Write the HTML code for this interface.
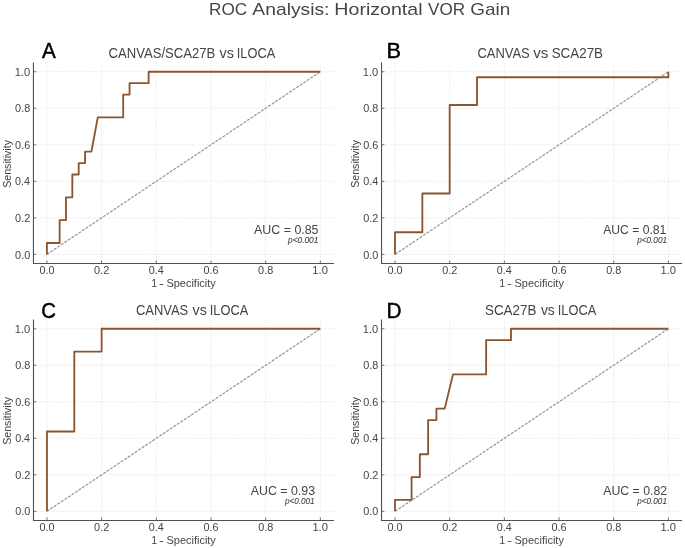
<!DOCTYPE html>
<html><head><meta charset="utf-8"><style>
html,body{margin:0;padding:0;background:#fff;}
svg{display:block;font-family:"Liberation Sans",sans-serif;will-change:transform;}
</style></head><body>
<svg width="685" height="548" viewBox="0 0 685 548">
<text x="209.09" y="15.00" font-size="17.15" textLength="38.16" lengthAdjust="spacingAndGlyphs" fill="#454545" style="" >ROC</text>
<text x="252.36" y="15.00" font-size="17.15" textLength="77.10" lengthAdjust="spacingAndGlyphs" fill="#454545" style="" >Analysis:</text>
<text x="334.39" y="15.00" font-size="17.15" textLength="88.11" lengthAdjust="spacingAndGlyphs" fill="#454545" style="" >Horizontal</text>
<text x="428.12" y="15.00" font-size="17.15" textLength="37.07" lengthAdjust="spacingAndGlyphs" fill="#454545" style="" >VOR</text>
<text x="470.25" y="15.00" font-size="17.15" textLength="39.98" lengthAdjust="spacingAndGlyphs" fill="#454545" style="" >Gain</text>
<path d="M46.90 62.62V263.53M33.23 254.40H333.97M101.58 62.62V263.53M33.23 217.87H333.97M156.26 62.62V263.53M33.23 181.34H333.97M210.94 62.62V263.53M33.23 144.81H333.97M265.62 62.62V263.53M33.23 108.28H333.97M320.30 62.62V263.53M33.23 71.75H333.97" stroke="#dadada" stroke-width="0.8" stroke-dasharray="1.0 1.48" fill="none"/>
<path d="M46.90 254.40L320.30 71.75" stroke="#959595" stroke-width="1.2" stroke-dasharray="2.95 1.275" fill="none"/>
<polyline points="46.90,254.40 46.90,242.98 59.62,242.98 59.62,220.15 65.97,220.15 65.97,197.32 72.33,197.32 72.33,174.49 78.69,174.49 78.69,163.07 85.05,163.07 85.05,151.66 91.41,151.66 97.77,117.41 123.20,117.41 123.20,94.58 129.56,94.58 129.56,83.17 148.63,83.17 148.63,71.75 320.30,71.75" stroke="#8b5530" stroke-width="1.85" fill="none" stroke-linejoin="round"/>
<path d="M33.43 62.62V263.53H333.97" stroke="#505050" stroke-width="1.1" fill="none"/>
<path d="M33.23 254.40h3M46.90 263.53v-3M33.23 217.87h3M101.58 263.53v-3M33.23 181.34h3M156.26 263.53v-3M33.23 144.81h3M210.94 263.53v-3M33.23 108.28h3M265.62 263.53v-3M33.23 71.75h3M320.30 263.53v-3" stroke="#505050" stroke-width="0.8" fill="none"/>
<text x="15.11" y="258.50" font-size="11.05" textLength="15.05" lengthAdjust="spacingAndGlyphs" fill="#454545" style="" >0.0</text>
<text x="39.38" y="273.93" font-size="11.05" textLength="15.05" lengthAdjust="spacingAndGlyphs" fill="#454545" style="" >0.0</text>
<text x="15.10" y="221.97" font-size="11.05" textLength="15.18" lengthAdjust="spacingAndGlyphs" fill="#454545" style="" >0.2</text>
<text x="94.05" y="273.93" font-size="11.05" textLength="15.18" lengthAdjust="spacingAndGlyphs" fill="#454545" style="" >0.2</text>
<text x="15.11" y="185.44" font-size="11.05" textLength="14.93" lengthAdjust="spacingAndGlyphs" fill="#454545" style="" >0.4</text>
<text x="148.74" y="273.93" font-size="11.05" textLength="14.93" lengthAdjust="spacingAndGlyphs" fill="#454545" style="" >0.4</text>
<text x="15.11" y="148.91" font-size="11.05" textLength="15.10" lengthAdjust="spacingAndGlyphs" fill="#454545" style="" >0.6</text>
<text x="203.42" y="273.93" font-size="11.05" textLength="15.10" lengthAdjust="spacingAndGlyphs" fill="#454545" style="" >0.6</text>
<text x="15.11" y="112.38" font-size="11.05" textLength="15.10" lengthAdjust="spacingAndGlyphs" fill="#454545" style="" >0.8</text>
<text x="258.10" y="273.93" font-size="11.05" textLength="15.10" lengthAdjust="spacingAndGlyphs" fill="#454545" style="" >0.8</text>
<text x="14.68" y="75.85" font-size="11.05" textLength="15.48" lengthAdjust="spacingAndGlyphs" fill="#454545" style="" >1.0</text>
<text x="312.35" y="273.93" font-size="11.05" textLength="15.48" lengthAdjust="spacingAndGlyphs" fill="#454545" style="" >1.0</text>
<text x="151.19" y="286.73" font-size="11.19" textLength="5.93" lengthAdjust="spacingAndGlyphs" fill="#454545" style="" >1</text>
<text x="159.04" y="286.73" font-size="11.19" textLength="4.91" lengthAdjust="spacingAndGlyphs" fill="#454545">-</text>
<text x="166.40" y="286.73" font-size="11.19" textLength="49.42" lengthAdjust="spacingAndGlyphs" fill="#454545" style="" >Specificity</text>
<g transform="translate(11.03,163.67) rotate(-90)"><text x="-24.08" y="0.00" font-size="10.76" textLength="47.70" lengthAdjust="spacingAndGlyphs" fill="#454545" style="" >Sensitivity</text></g>
<text x="108.54" y="58.00" font-size="14.39" textLength="106.74" lengthAdjust="spacingAndGlyphs" fill="#454545" style="" >CANVAS/SCA27B</text>
<text x="219.55" y="58.00" font-size="14.39" textLength="14.37" lengthAdjust="spacingAndGlyphs" fill="#454545" style="" >vs</text>
<text x="236.82" y="58.00" font-size="14.39" textLength="38.41" lengthAdjust="spacingAndGlyphs" fill="#454545" style="" >ILOCA</text>
<text x="41.96" y="58.00" font-size="21.29" textLength="13.78" lengthAdjust="spacingAndGlyphs" fill="#000000" style="" stroke="#000" stroke-width="0.45">A</text>
<text x="254.08" y="233.90" font-size="12.50" textLength="64.44" lengthAdjust="spacingAndGlyphs" fill="#444444" style="" >AUC = 0.85</text>
<text x="288.01" y="242.70" font-size="8.43" textLength="30.40" lengthAdjust="spacingAndGlyphs" fill="#404040" style="font-style:italic;" stroke="#404040" stroke-width="0.08">p&lt;0.001</text>
<path d="M395.00 62.62V263.53M381.33 254.40H682.07M449.68 62.62V263.53M381.33 217.87H682.07M504.36 62.62V263.53M381.33 181.34H682.07M559.04 62.62V263.53M381.33 144.81H682.07M613.72 62.62V263.53M381.33 108.28H682.07M668.40 62.62V263.53M381.33 71.75H682.07" stroke="#dadada" stroke-width="0.8" stroke-dasharray="1.0 1.48" fill="none"/>
<path d="M395.00 254.40L668.40 71.75" stroke="#959595" stroke-width="1.2" stroke-dasharray="2.95 1.275" fill="none"/>
<polyline points="395.00,254.40 395.00,232.26 422.34,232.26 422.34,193.52 449.68,193.52 449.68,104.96 477.02,104.96 477.02,77.28 668.40,77.28 668.40,71.75" stroke="#8b5530" stroke-width="1.85" fill="none" stroke-linejoin="round"/>
<path d="M381.53 62.62V263.53H682.07" stroke="#505050" stroke-width="1.1" fill="none"/>
<path d="M381.33 254.40h3M395.00 263.53v-3M381.33 217.87h3M449.68 263.53v-3M381.33 181.34h3M504.36 263.53v-3M381.33 144.81h3M559.04 263.53v-3M381.33 108.28h3M613.72 263.53v-3M381.33 71.75h3M668.40 263.53v-3" stroke="#505050" stroke-width="0.8" fill="none"/>
<text x="363.21" y="258.50" font-size="11.05" textLength="15.05" lengthAdjust="spacingAndGlyphs" fill="#454545" style="" >0.0</text>
<text x="387.48" y="273.93" font-size="11.05" textLength="15.05" lengthAdjust="spacingAndGlyphs" fill="#454545" style="" >0.0</text>
<text x="363.20" y="221.97" font-size="11.05" textLength="15.18" lengthAdjust="spacingAndGlyphs" fill="#454545" style="" >0.2</text>
<text x="442.15" y="273.93" font-size="11.05" textLength="15.18" lengthAdjust="spacingAndGlyphs" fill="#454545" style="" >0.2</text>
<text x="363.21" y="185.44" font-size="11.05" textLength="14.93" lengthAdjust="spacingAndGlyphs" fill="#454545" style="" >0.4</text>
<text x="496.84" y="273.93" font-size="11.05" textLength="14.93" lengthAdjust="spacingAndGlyphs" fill="#454545" style="" >0.4</text>
<text x="363.21" y="148.91" font-size="11.05" textLength="15.10" lengthAdjust="spacingAndGlyphs" fill="#454545" style="" >0.6</text>
<text x="551.52" y="273.93" font-size="11.05" textLength="15.10" lengthAdjust="spacingAndGlyphs" fill="#454545" style="" >0.6</text>
<text x="363.21" y="112.38" font-size="11.05" textLength="15.10" lengthAdjust="spacingAndGlyphs" fill="#454545" style="" >0.8</text>
<text x="606.20" y="273.93" font-size="11.05" textLength="15.10" lengthAdjust="spacingAndGlyphs" fill="#454545" style="" >0.8</text>
<text x="362.78" y="75.85" font-size="11.05" textLength="15.48" lengthAdjust="spacingAndGlyphs" fill="#454545" style="" >1.0</text>
<text x="660.45" y="273.93" font-size="11.05" textLength="15.48" lengthAdjust="spacingAndGlyphs" fill="#454545" style="" >1.0</text>
<text x="499.29" y="286.73" font-size="11.19" textLength="5.93" lengthAdjust="spacingAndGlyphs" fill="#454545" style="" >1</text>
<text x="507.14" y="286.73" font-size="11.19" textLength="4.91" lengthAdjust="spacingAndGlyphs" fill="#454545">-</text>
<text x="514.50" y="286.73" font-size="11.19" textLength="49.42" lengthAdjust="spacingAndGlyphs" fill="#454545" style="" >Specificity</text>
<g transform="translate(359.13,163.67) rotate(-90)"><text x="-24.08" y="0.00" font-size="10.76" textLength="47.70" lengthAdjust="spacingAndGlyphs" fill="#454545" style="" >Sensitivity</text></g>
<text x="477.45" y="58.00" font-size="14.39" textLength="52.33" lengthAdjust="spacingAndGlyphs" fill="#454545" style="" >CANVAS</text>
<text x="533.15" y="58.00" font-size="14.39" textLength="15.10" lengthAdjust="spacingAndGlyphs" fill="#454545" style="" >vs</text>
<text x="551.69" y="58.00" font-size="14.39" textLength="51.31" lengthAdjust="spacingAndGlyphs" fill="#454545" style="" >SCA27B</text>
<text x="386.51" y="58.00" font-size="21.29" textLength="14.54" lengthAdjust="spacingAndGlyphs" fill="#000000" style="" stroke="#000" stroke-width="0.45">B</text>
<text x="603.18" y="234.30" font-size="12.79" textLength="63.12" lengthAdjust="spacingAndGlyphs" fill="#444444" style="" >AUC = 0.81</text>
<text x="637.20" y="243.00" font-size="8.72" textLength="29.79" lengthAdjust="spacingAndGlyphs" fill="#404040" style="font-style:italic;" stroke="#404040" stroke-width="0.08">p&lt;0.001</text>
<path d="M46.96 319.62V520.48M33.29 511.35H334.03M101.64 319.62V520.48M33.29 474.83H334.03M156.32 319.62V520.48M33.29 438.31H334.03M211.00 319.62V520.48M33.29 401.79H334.03M265.68 319.62V520.48M33.29 365.27H334.03M320.36 319.62V520.48M33.29 328.75H334.03" stroke="#dadada" stroke-width="0.8" stroke-dasharray="1.0 1.48" fill="none"/>
<path d="M46.96 511.35L320.36 328.75" stroke="#959595" stroke-width="1.2" stroke-dasharray="2.95 1.275" fill="none"/>
<polyline points="46.96,511.35 46.96,431.46 74.30,431.46 74.30,351.58 101.64,351.58 101.64,328.75 320.36,328.75" stroke="#8b5530" stroke-width="1.85" fill="none" stroke-linejoin="round"/>
<path d="M33.49 319.62V520.48H334.03" stroke="#505050" stroke-width="1.1" fill="none"/>
<path d="M33.29 511.35h3M46.96 520.48v-3M33.29 474.83h3M101.64 520.48v-3M33.29 438.31h3M156.32 520.48v-3M33.29 401.79h3M211.00 520.48v-3M33.29 365.27h3M265.68 520.48v-3M33.29 328.75h3M320.36 520.48v-3" stroke="#505050" stroke-width="0.8" fill="none"/>
<text x="15.17" y="515.45" font-size="11.05" textLength="15.05" lengthAdjust="spacingAndGlyphs" fill="#454545" style="" >0.0</text>
<text x="39.44" y="530.88" font-size="11.05" textLength="15.05" lengthAdjust="spacingAndGlyphs" fill="#454545" style="" >0.0</text>
<text x="15.16" y="478.93" font-size="11.05" textLength="15.18" lengthAdjust="spacingAndGlyphs" fill="#454545" style="" >0.2</text>
<text x="94.11" y="530.88" font-size="11.05" textLength="15.18" lengthAdjust="spacingAndGlyphs" fill="#454545" style="" >0.2</text>
<text x="15.17" y="442.41" font-size="11.05" textLength="14.93" lengthAdjust="spacingAndGlyphs" fill="#454545" style="" >0.4</text>
<text x="148.80" y="530.88" font-size="11.05" textLength="14.93" lengthAdjust="spacingAndGlyphs" fill="#454545" style="" >0.4</text>
<text x="15.17" y="405.89" font-size="11.05" textLength="15.10" lengthAdjust="spacingAndGlyphs" fill="#454545" style="" >0.6</text>
<text x="203.48" y="530.88" font-size="11.05" textLength="15.10" lengthAdjust="spacingAndGlyphs" fill="#454545" style="" >0.6</text>
<text x="15.17" y="369.37" font-size="11.05" textLength="15.10" lengthAdjust="spacingAndGlyphs" fill="#454545" style="" >0.8</text>
<text x="258.16" y="530.88" font-size="11.05" textLength="15.10" lengthAdjust="spacingAndGlyphs" fill="#454545" style="" >0.8</text>
<text x="14.74" y="332.85" font-size="11.05" textLength="15.48" lengthAdjust="spacingAndGlyphs" fill="#454545" style="" >1.0</text>
<text x="312.41" y="530.88" font-size="11.05" textLength="15.48" lengthAdjust="spacingAndGlyphs" fill="#454545" style="" >1.0</text>
<text x="151.25" y="543.68" font-size="11.19" textLength="5.93" lengthAdjust="spacingAndGlyphs" fill="#454545" style="" >1</text>
<text x="159.10" y="543.68" font-size="11.19" textLength="4.91" lengthAdjust="spacingAndGlyphs" fill="#454545">-</text>
<text x="166.46" y="543.68" font-size="11.19" textLength="49.42" lengthAdjust="spacingAndGlyphs" fill="#454545" style="" >Specificity</text>
<g transform="translate(11.09,420.65) rotate(-90)"><text x="-24.08" y="0.00" font-size="10.76" textLength="47.70" lengthAdjust="spacingAndGlyphs" fill="#454545" style="" >Sensitivity</text></g>
<text x="135.95" y="315.00" font-size="14.39" textLength="52.33" lengthAdjust="spacingAndGlyphs" fill="#454545" style="" >CANVAS</text>
<text x="192.55" y="315.00" font-size="14.39" textLength="14.26" lengthAdjust="spacingAndGlyphs" fill="#454545" style="" >vs</text>
<text x="209.72" y="315.00" font-size="14.39" textLength="38.51" lengthAdjust="spacingAndGlyphs" fill="#454545" style="" >ILOCA</text>
<text x="41.17" y="318.00" font-size="21.29" textLength="14.71" lengthAdjust="spacingAndGlyphs" fill="#000000" style="" stroke="#000" stroke-width="0.45">C</text>
<text x="250.78" y="494.90" font-size="12.79" textLength="64.27" lengthAdjust="spacingAndGlyphs" fill="#444444" style="" >AUC = 0.93</text>
<text x="284.90" y="503.60" font-size="8.43" textLength="29.69" lengthAdjust="spacingAndGlyphs" fill="#404040" style="font-style:italic;" stroke="#404040" stroke-width="0.08">p&lt;0.001</text>
<path d="M395.00 319.62V520.48M381.33 511.35H682.07M449.68 319.62V520.48M381.33 474.83H682.07M504.36 319.62V520.48M381.33 438.31H682.07M559.04 319.62V520.48M381.33 401.79H682.07M613.72 319.62V520.48M381.33 365.27H682.07M668.40 319.62V520.48M381.33 328.75H682.07" stroke="#dadada" stroke-width="0.8" stroke-dasharray="1.0 1.48" fill="none"/>
<path d="M395.00 511.35L668.40 328.75" stroke="#959595" stroke-width="1.2" stroke-dasharray="2.95 1.275" fill="none"/>
<polyline points="395.00,511.35 395.00,499.94 411.57,499.94 411.57,477.11 419.85,477.11 419.85,454.29 428.14,454.29 428.14,420.05 436.42,420.05 436.42,408.64 444.71,408.64 452.99,374.40 486.13,374.40 486.13,340.16 510.99,340.16 510.99,328.75 668.40,328.75" stroke="#8b5530" stroke-width="1.85" fill="none" stroke-linejoin="round"/>
<path d="M381.53 319.62V520.48H682.07" stroke="#505050" stroke-width="1.1" fill="none"/>
<path d="M381.33 511.35h3M395.00 520.48v-3M381.33 474.83h3M449.68 520.48v-3M381.33 438.31h3M504.36 520.48v-3M381.33 401.79h3M559.04 520.48v-3M381.33 365.27h3M613.72 520.48v-3M381.33 328.75h3M668.40 520.48v-3" stroke="#505050" stroke-width="0.8" fill="none"/>
<text x="363.21" y="515.45" font-size="11.05" textLength="15.05" lengthAdjust="spacingAndGlyphs" fill="#454545" style="" >0.0</text>
<text x="387.48" y="530.88" font-size="11.05" textLength="15.05" lengthAdjust="spacingAndGlyphs" fill="#454545" style="" >0.0</text>
<text x="363.20" y="478.93" font-size="11.05" textLength="15.18" lengthAdjust="spacingAndGlyphs" fill="#454545" style="" >0.2</text>
<text x="442.15" y="530.88" font-size="11.05" textLength="15.18" lengthAdjust="spacingAndGlyphs" fill="#454545" style="" >0.2</text>
<text x="363.21" y="442.41" font-size="11.05" textLength="14.93" lengthAdjust="spacingAndGlyphs" fill="#454545" style="" >0.4</text>
<text x="496.84" y="530.88" font-size="11.05" textLength="14.93" lengthAdjust="spacingAndGlyphs" fill="#454545" style="" >0.4</text>
<text x="363.21" y="405.89" font-size="11.05" textLength="15.10" lengthAdjust="spacingAndGlyphs" fill="#454545" style="" >0.6</text>
<text x="551.52" y="530.88" font-size="11.05" textLength="15.10" lengthAdjust="spacingAndGlyphs" fill="#454545" style="" >0.6</text>
<text x="363.21" y="369.37" font-size="11.05" textLength="15.10" lengthAdjust="spacingAndGlyphs" fill="#454545" style="" >0.8</text>
<text x="606.20" y="530.88" font-size="11.05" textLength="15.10" lengthAdjust="spacingAndGlyphs" fill="#454545" style="" >0.8</text>
<text x="362.78" y="332.85" font-size="11.05" textLength="15.48" lengthAdjust="spacingAndGlyphs" fill="#454545" style="" >1.0</text>
<text x="660.45" y="530.88" font-size="11.05" textLength="15.48" lengthAdjust="spacingAndGlyphs" fill="#454545" style="" >1.0</text>
<text x="499.29" y="543.68" font-size="11.19" textLength="5.93" lengthAdjust="spacingAndGlyphs" fill="#454545" style="" >1</text>
<text x="507.14" y="543.68" font-size="11.19" textLength="4.91" lengthAdjust="spacingAndGlyphs" fill="#454545">-</text>
<text x="514.50" y="543.68" font-size="11.19" textLength="49.42" lengthAdjust="spacingAndGlyphs" fill="#454545" style="" >Specificity</text>
<g transform="translate(359.13,420.65) rotate(-90)"><text x="-24.08" y="0.00" font-size="10.76" textLength="47.70" lengthAdjust="spacingAndGlyphs" fill="#454545" style="" >Sensitivity</text></g>
<text x="484.99" y="315.00" font-size="14.39" textLength="51.42" lengthAdjust="spacingAndGlyphs" fill="#454545" style="" >SCA27B</text>
<text x="540.95" y="315.00" font-size="14.39" textLength="13.85" lengthAdjust="spacingAndGlyphs" fill="#454545" style="" >vs</text>
<text x="557.72" y="315.00" font-size="14.39" textLength="38.51" lengthAdjust="spacingAndGlyphs" fill="#454545" style="" >ILOCA</text>
<text x="386.44" y="318.00" font-size="21.29" textLength="15.06" lengthAdjust="spacingAndGlyphs" fill="#000000" style="" stroke="#000" stroke-width="0.45">D</text>
<text x="603.18" y="494.60" font-size="12.35" textLength="63.94" lengthAdjust="spacingAndGlyphs" fill="#444444" style="" >AUC = 0.82</text>
<text x="637.20" y="503.60" font-size="8.43" textLength="29.79" lengthAdjust="spacingAndGlyphs" fill="#404040" style="font-style:italic;" stroke="#404040" stroke-width="0.08">p&lt;0.001</text>
</svg></body></html>
